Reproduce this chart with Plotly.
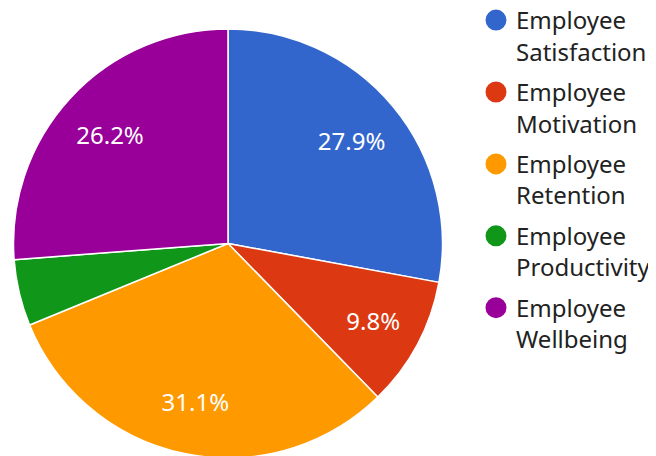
import plotly.graph_objects as go

categories = ["Employee Satisfaction", "Employee Motivation", "Employee Retention",
              "Employee Productivity", "Employee Wellbeing"]
legend_labels = ["Employee<br>Satisfaction", "Employee<br>Motivation", "Employee<br>Retention",
                 "Employee<br>Productivity", "Employee<br>Wellbeing"]
values = [27.9, 9.8, 31.1, 5.0, 26.2]
colors = ["#3366CC", "#DC3912", "#FF9900", "#109618", "#990099"]
show_label = [True, True, True, False, True]

# page body has an 8px default margin; size the figure so it fills the window
W, H = 648, 450
FONT = "Noto Sans"
TOP = 21

dom = dict(x=[0, 440 / W], y=[0, 1 - TOP / H])

fig = go.Figure()
# the coloured pie
fig.add_trace(go.Pie(
    labels=categories,
    values=values,
    sort=False,
    direction="clockwise",
    rotation=0,
    marker=dict(colors=colors, line=dict(color="white", width=1.5)),
    textinfo="none",
    domain=dom,
    showlegend=False,
    hoverinfo="label+percent",
))
# transparent ring on top carrying the percentage labels (puts them at ~3/4 radius)
fig.add_trace(go.Pie(
    labels=categories,
    values=values,
    sort=False,
    direction="clockwise",
    rotation=0,
    hole=0.5,
    marker=dict(colors=["rgba(0,0,0,0)"] * len(values), line=dict(width=0)),
    texttemplate=["%{percent:.1%}" if s else "" for s in show_label],
    textposition="inside",
    insidetextorientation="horizontal",
    textfont=dict(color="white", size=24, family=FONT),
    domain=dom,
    showlegend=False,
    hoverinfo="skip",
))

for i, (lab, col) in enumerate(zip(legend_labels, colors)):
    fig.add_trace(go.Scatter(
        x=[None], y=[None], mode="markers", name=lab, legendgroup=f"g{i}",
        marker=dict(symbol="circle", size=16, color=col, line=dict(color=col, width=5)),
        showlegend=True, hoverinfo="skip",
    ))

fig.update_layout(
    width=W, height=H,
    margin=dict(l=0, r=0, t=0, b=0, autoexpand=False),
    paper_bgcolor="white", plot_bgcolor="rgba(0,0,0,0)",
    xaxis=dict(visible=False), yaxis=dict(visible=False),
    font=dict(family=FONT, color="#222222"),
    legend=dict(
        x=468 / W, xanchor="left", y=1 + 10 / H, yanchor="top",
        font=dict(size=24, color="#222222", family=FONT),
        valign="top", bgcolor="rgba(0,0,0,0)",
        tracegroupgap=6.5, maxheight=460,
    ),
)

fig.write_html("out.html")
